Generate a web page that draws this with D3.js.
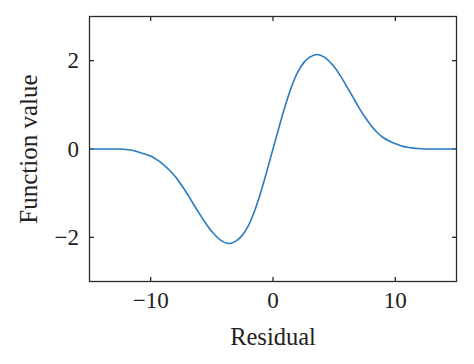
<!DOCTYPE html>
<html><head><meta charset="utf-8">
<script src="https://cdn.jsdelivr.net/npm/d3@7"></script>
<style>body{margin:0;background:#fff}svg{display:block}</style>
</head><body>
<script>
const residual = [-15,-14,-13,-12.5,-12,-11.5,-11,-10.5,-10,-9.5,-9,-8.5,-8,-7.5,-7,-6.5,-6,-5.5,-5,-4.2,-3.6,-3,-2.5,-2,-1.5,-1,-0.5,0,0.5,1,1.5,2,2.5,3,3.6,4.2,5,5.5,6,6.5,7,7.5,8,8.5,9,9.5,10,10.5,11,11.5,12,12.5,13,14,15];
const functionValue = [0,0,0,0,-0.01,-0.03,-0.07,-0.11,-0.16,-0.24,-0.34,-0.47,-0.62,-0.81,-1.02,-1.25,-1.47,-1.68,-1.87,-2.08,-2.14,-2.08,-1.95,-1.73,-1.40,-0.98,-0.50,0,0.50,0.98,1.40,1.73,1.95,2.08,2.14,2.08,1.86,1.66,1.43,1.19,0.95,0.73,0.54,0.38,0.26,0.18,0.12,0.07,0.04,0.02,0.01,0,0,0,0];
const xTicks = [-10,0,10];
const yTicks = [-2,0,2];
const xLabel = "Residual";
const yLabel = "Function value";

const W=474,H=364;
const m={l:89.5,r:456.5,t:16.5,b:281.5};
const svg=d3.select("body").append("svg").attr("width",W).attr("height",H);
const x=d3.scaleLinear().domain([-15,15]).range([m.l,m.r]);
const y=d3.scaleLinear().domain([-3,3]).range([m.b,m.t]);
const font='"Liberation Serif","Times New Roman",serif';
const axCol="#2b2b2b";

const g=svg.append("g").attr("stroke",axCol).attr("stroke-width",1.3);
xTicks.forEach(t=>{
  g.append("line").attr("x1",x(t)).attr("x2",x(t)).attr("y1",m.b).attr("y2",m.b-4.5);
  g.append("line").attr("x1",x(t)).attr("x2",x(t)).attr("y1",m.t).attr("y2",m.t+4.5);
});
yTicks.forEach(t=>{
  g.append("line").attr("y1",y(t)).attr("y2",y(t)).attr("x1",m.l).attr("x2",m.l+4.5);
  g.append("line").attr("y1",y(t)).attr("y2",y(t)).attr("x1",m.r).attr("x2",m.r-4.5);
});

const line=d3.line().x((d,i)=>x(residual[i])).y(d=>y(d)).curve(d3.curveCatmullRom.alpha(0.5));
svg.append("path").datum(functionValue).attr("d",line).attr("fill","none")
  .attr("stroke","#2a7ac0").attr("stroke-width",1.6);

svg.append("rect").attr("x",m.l).attr("y",m.t).attr("width",m.r-m.l).attr("height",m.b-m.t)
  .attr("fill","none").attr("stroke",axCol).attr("stroke-width",1.3);

const fmt=v=>v<0?"\u2212"+Math.abs(v):String(v);
svg.selectAll(".xt").data(xTicks).enter().append("text")
  .attr("x",d=>x(d)).attr("y",308).attr("text-anchor","middle")
  .attr("font-family",font).attr("font-size",23).attr("fill","#222").text(fmt);
svg.selectAll(".yt").data(yTicks).enter().append("text")
  .attr("x",79).attr("y",d=>y(d)+7.5).attr("text-anchor","end")
  .attr("font-family",font).attr("font-size",23).attr("fill","#222").text(fmt);
svg.append("text").attr("x",x(0)).attr("y",345).attr("text-anchor","middle")
  .attr("font-family",font).attr("font-size",24.5).attr("fill","#222").text(xLabel);
svg.append("text").attr("transform",`translate(37,${149}) rotate(-90)`)
  .attr("text-anchor","middle").attr("font-family",font).attr("font-size",25).attr("fill","#222").text(yLabel);
</script>
</body></html>
